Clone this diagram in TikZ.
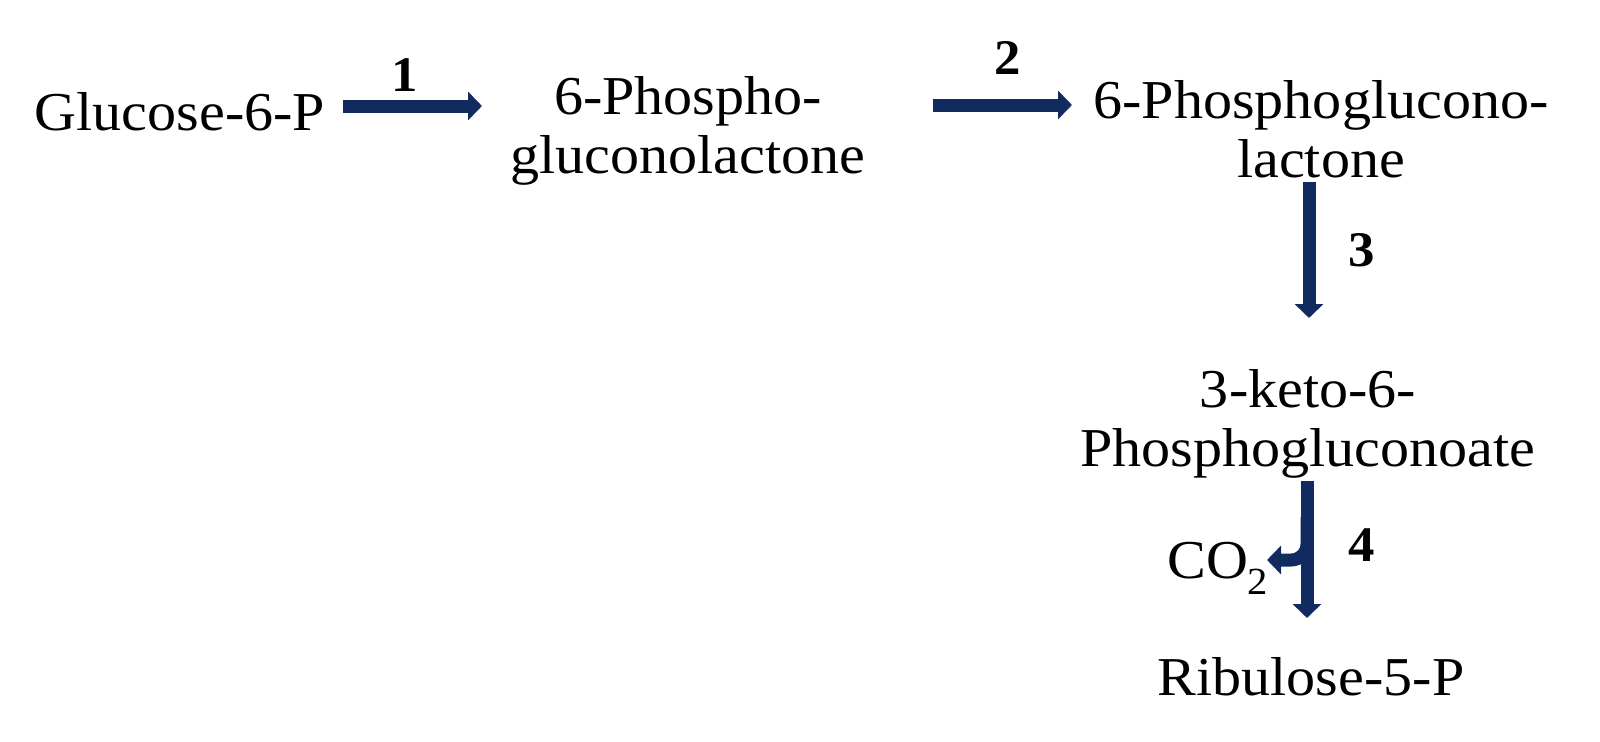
\documentclass[tikz,border=0pt]{standalone}
\usepackage{fontspec}
\setmainfont{Liberation Serif}[FakeStretch=1.06]
\usetikzlibrary{arrows.meta}
\definecolor{navy}{RGB}{17,42,96}
\tikzset{
  cmpd/.style={font=\fontsize{55}{59}\selectfont, align=center, anchor=base, inner sep=0pt},
  enz/.style={font=\fontsize{50}{54}\selectfont\bfseries, anchor=center, inner sep=0pt},
  rxn/.style={draw=navy, line width=13bp, -{Triangle[width=28bp,length=14bp]}},
}
\begin{document}
\begin{tikzpicture}[x=1bp,y=-1bp]
\useasboundingbox (0,0) rectangle (1600,742);
% compounds (base anchor = baseline of last line)
\node[cmpd] (g6p) at (180,130) {Glucose-6-P};
\node[cmpd] (pgl) at (688,173) {6-Phospho-\\gluconolactone};
\node[cmpd] (pgl2) at (1321,177) {6-Phosphoglucono-\\lactone};
\node[cmpd] (kpg) at (1308,466) {3-keto-6-\\Phosphogluconoate};
\node[cmpd] (r5p) at (1311,695) {Ribulose-5-P};
\node[cmpd] (co2) at (1218,578) {CO\textsubscript{2}};
% enzyme labels
\node[enz] (e1) at (405,75) {1};
\node[enz] (e2) at (1008,58) {2};
\node[enz] (e3) at (1362,250) {3};
\node[enz] (e4) at (1362,545) {4};
% arrow end points
\coordinate (a1s) at (343,106);
\coordinate (a1e) at (482,106);
\coordinate (a2s) at (933,105);
\coordinate (a2e) at (1072,105);
\coordinate (a3s) at (1309,182);
\coordinate (a3e) at (1309,318);
\coordinate (a4s) at (1307,481);
\coordinate (a4e) at (1307,618);
\coordinate (b4s) at (1307,517);
\coordinate (b4c) at (1307,560);
\coordinate (b4e) at (1267,560);
% arrows
\draw[rxn] (a1s) -- (a1e);
\draw[rxn] (a2s) -- (a2e);
\draw[rxn] (a3s) -- (a3e);
\draw[rxn] (a4s) -- (a4e);
\draw[rxn, rounded corners=16bp] (b4s) -- (b4c) -- (b4e);
\end{tikzpicture}
\end{document}
